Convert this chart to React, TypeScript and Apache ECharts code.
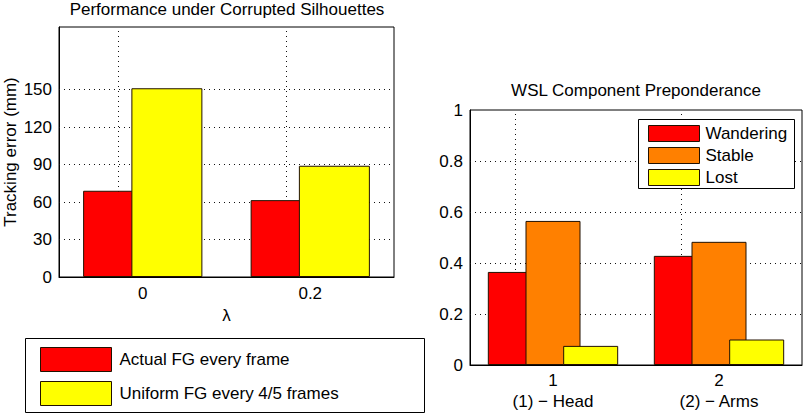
import React, { useEffect, useRef } from 'react';
import * as echarts from 'echarts';

const lambdaCats = ['0', '0.2'];
const actualFG = [69, 61.5];
const uniformFG = [151, 89];
const leftYGrid = [30, 60, 90, 120, 150];

const partCats = ['1\n(1) − Head', '2\n(2) − Arms'];
const wandering = [0.365, 0.428];
const stable = [0.565, 0.483];
const lost = [0.075, 0.1];
const rightYGrid = [0.2, 0.4, 0.6, 0.8];

const FONT = 'Liberation Sans, Arial, Helvetica, sans-serif';
const gridLine = { type: [1, 4] as any, color: '#111', width: 1 };
const edge = '#221100';

export default function App() {
  const ref = useRef<HTMLDivElement>(null);
  useEffect(() => {
    const chart = echarts.init(ref.current!, null, { renderer: 'svg' });
    const axisCommon = {
      axisLine: { show: true, lineStyle: { color: '#000', width: 1 } },
      axisTick: { show: false },
      splitLine: { show: false },
    };
    const vLines = (cats: string[]) => cats.map((c) => ({ xAxis: c }));
    const hLines = (vals: number[]) => vals.map((v) => ({ yAxis: v }));
    chart.setOption({
      animation: false,
      textStyle: { fontFamily: FONT, color: '#000' },
      title: [
        {
          text: 'Performance under Corrupted Silhouettes',
          left: 227, top: 1, padding: 0, textAlign: 'center',
          textStyle: { fontSize: 17, fontWeight: 'normal', color: '#000', fontFamily: FONT },
        },
        {
          text: 'WSL Component Preponderance',
          left: 636, top: 82, padding: 0, textAlign: 'center',
          textStyle: { fontSize: 17, fontWeight: 'normal', color: '#000', fontFamily: FONT },
        },
      ],
      grid: [
        { left: 59, top: 27, width: 335, height: 250, show: true, borderColor: '#000', borderWidth: 1 },
        { left: 470, top: 110, width: 332, height: 255, show: true, borderColor: '#000', borderWidth: 1 },
      ],
      xAxis: [
        {
          gridIndex: 0, type: 'category', data: lambdaCats, ...axisCommon,
          axisLabel: { color: '#000', fontSize: 17, margin: 8, fontFamily: FONT },
          name: 'λ', nameLocation: 'middle', nameGap: 25,
          nameTextStyle: { fontSize: 17, color: '#000', fontFamily: FONT },
        },
        {
          gridIndex: 1, type: 'category', data: partCats, ...axisCommon,
          axisLabel: { color: '#000', fontSize: 17, lineHeight: 21, margin: 5, fontFamily: FONT },
        },
      ],
      yAxis: [
        {
          gridIndex: 0, type: 'value', min: 0, max: 200, interval: 30, ...axisCommon,
          axisLabel: {
            color: '#000', fontSize: 17, margin: 7, fontFamily: FONT,
            formatter: (v: number) => (v <= 150 ? String(v) : ''),
          },
          name: 'Tracking error (mm)', nameLocation: 'middle', nameGap: 40,
          nameTextStyle: { fontSize: 17, color: '#000', fontFamily: FONT },
        },
        {
          gridIndex: 1, type: 'value', min: 0, max: 1, interval: 0.2, ...axisCommon,
          axisLabel: { color: '#000', fontSize: 17, margin: 7, fontFamily: FONT },
        },
      ],
      legend: [
        {
          data: ['Actual FG every frame', 'Uniform FG every 4/5 frames'],
          orient: 'vertical', left: 40, top: 347, padding: 0,
          itemWidth: 71, itemHeight: 24, itemGap: 9, icon: 'rect', selectedMode: false, z: 6,
          itemStyle: { borderColor: edge, borderWidth: 1 },
          textStyle: { fontSize: 17, color: '#000', fontFamily: FONT, padding: [0, 0, 0, 3] },
        },
        {
          data: ['Wandering', 'Stable', 'Lost'],
          orient: 'vertical', left: 648, top: 125, padding: 0,
          itemWidth: 51, itemHeight: 16, itemGap: 5, icon: 'rect', selectedMode: false, z: 6,
          itemStyle: { borderColor: edge, borderWidth: 1 },
          textStyle: { fontSize: 17, lineHeight: 16, color: '#000', fontFamily: FONT, padding: [0, 0, 0, 1] },
        },
      ],
      graphic: [
        {
          type: 'rect', z: 5, silent: true,
          shape: { x: 25.5, y: 338.5, width: 399, height: 74 },
          style: { fill: '#fff', stroke: '#000', lineWidth: 1 },
        },
        {
          type: 'rect', z: 5, silent: true,
          shape: { x: 638.5, y: 119.5, width: 156, height: 69 },
          style: { fill: '#fff', stroke: '#000', lineWidth: 1 },
        },
      ],
      series: [
        {
          type: 'bar', name: 'Actual FG every frame', xAxisIndex: 0, yAxisIndex: 0,
          data: actualFG, barWidth: 71, barGap: '-32%',
          itemStyle: { color: '#ff0000', borderColor: edge, borderWidth: 1 },
          markLine: {
            z: 1, silent: true, symbol: 'none', label: { show: false },
            lineStyle: gridLine,
            data: [...vLines(lambdaCats), ...hLines(leftYGrid)],
          },
        },
        {
          type: 'bar', name: 'Uniform FG every 4/5 frames', xAxisIndex: 0, yAxisIndex: 0,
          data: uniformFG, barWidth: 71, barGap: '-32%',
          itemStyle: { color: '#ffff00', borderColor: edge, borderWidth: 1 },
        },
        {
          type: 'bar', name: 'Wandering', xAxisIndex: 1, yAxisIndex: 1,
          data: wandering, barWidth: 55, barGap: '-31.5%',
          itemStyle: { color: '#ff0000', borderColor: edge, borderWidth: 1 },
          markLine: {
            z: 1, silent: true, symbol: 'none', label: { show: false },
            lineStyle: gridLine,
            data: [...vLines(partCats), ...hLines(rightYGrid)],
          },
        },
        {
          type: 'bar', name: 'Stable', xAxisIndex: 1, yAxisIndex: 1,
          data: stable, barWidth: 55, barGap: '-31.5%',
          itemStyle: { color: '#ff8000', borderColor: edge, borderWidth: 1 },
        },
        {
          type: 'bar', name: 'Lost', xAxisIndex: 1, yAxisIndex: 1,
          data: lost, barWidth: 55, barGap: '-31.5%',
          itemStyle: { color: '#ffff00', borderColor: edge, borderWidth: 1 },
        },
      ],
    });
    return () => chart.dispose();
  }, []);
  return (
    <div
      ref={ref}
      style={{ position: 'fixed', left: 0, top: 0, width: 805, height: 418, background: '#fff' }}
    />
  );
}
